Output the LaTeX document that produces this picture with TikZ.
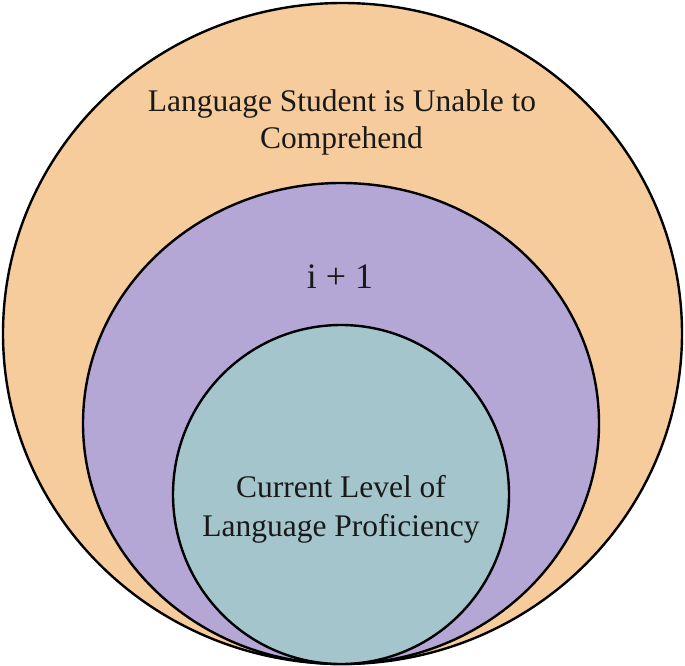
\documentclass[tikz,border=0pt]{standalone}
\usepackage{fontspec}
\setmainfont{Liberation Serif}
\definecolor{outerc}{RGB}{247,204,157}
\definecolor{midc}{RGB}{181,167,213}
\definecolor{innerc}{RGB}{164,197,204}
\begin{document}
\begin{tikzpicture}[x=1bp,y=-1bp,
  ring/.style={draw=black,line width=2.4bp},
  lbl/.style={anchor=base,inner sep=0pt,font=\fontsize{31.6}{36}\selectfont,text=black!90}]
\useasboundingbox (0,0) rectangle (685,666);
\filldraw[ring,fill=outerc] (342.5,333.5) ellipse [x radius=339.5,y radius=330.5];
\filldraw[ring,fill=midc] (341,423.5) ellipse [x radius=258,y radius=240.5];
\filldraw[ring,fill=innerc] (341,494.5) ellipse [x radius=168,y radius=169.5];
\node[lbl] (t1) at (342,112) {Language Student is Unable to};
\node[lbl] (t2) at (341.5,148) {Comprehend};
\node[lbl,font=\fontsize{36}{40}\selectfont] (t3) at (340,288) {i + 1};
\node[lbl] (t4) at (341,497) {Current Level of};
\node[lbl] (t5) at (341,536) {Language Proficiency};
\end{tikzpicture}
\end{document}
